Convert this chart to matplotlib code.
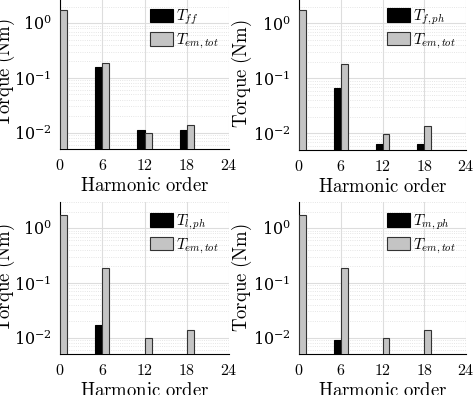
import numpy as np
import matplotlib
matplotlib.use("Agg")
import matplotlib.pyplot as plt
from matplotlib.ticker import LogLocator, NullFormatter

plt.rcParams["mathtext.fontset"] = "cm"
plt.rcParams["font.family"] = "serif"
plt.rcParams["font.serif"] = ["DejaVu Serif"]

harmonics = [0, 6, 12, 18, 24]
t_em_tot = [1.76, 0.184, 0.0098, 0.0136, 0.0]

t_ff = [0.0, 0.159, 0.011, 0.011, 0.0]
t_f_ph = [1.76, 0.067, 0.0063, 0.0063, 0.0]
t_l_ph = [0.0, 0.0173, 0.0, 0.0, 0.0]
t_m_ph = [0.0, 0.0092, 0.0, 0.0, 0.0]

panels = [
    (t_ff, r"$T_{ff}$"),
    (t_f_ph, r"$T_{f,ph}$"),
    (t_l_ph, r"$T_{l,ph}$"),
    (t_m_ph, r"$T_{m,ph}$"),
]

W, H = 474, 395
# pixel boxes: left, right, top, bottom
boxes = [
    (60, 229, -3, 149),
    (299, 466, -3, 150),
    (60, 229, 202, 354),
    (299, 466, 202, 354),
]
# x position (pixels) of the ylabel's right edge
ylabel_x = [17, 254, 17, 254]

fig = plt.figure(figsize=(W / 100, H / 100), dpi=100)
gray = "#c4c4c4"

for (vals, lab), (l, r, t, b), yx in zip(panels, boxes, ylabel_x):
    ax = fig.add_axes([l / W, 1 - b / H, (r - l) / W, (b - t) / H])
    x = np.array(harmonics, dtype=float)
    v1 = np.array(vals)
    v2 = np.array(t_em_tot)
    ax.bar(x - 0.5, np.where(v1 > 0, v1, np.nan), width=1.0, color="black",
           edgecolor="black", linewidth=0.8, label=lab, zorder=3)
    ax.bar(x + 0.5, np.where(v2 > 0, v2, np.nan), width=1.0, color=gray,
           edgecolor="#333333", linewidth=0.8, label=r"$T_{em,tot}$", zorder=3)
    ax.set_yscale("log")
    ax.set_ylim(0.005, 3)
    ax.set_xlim(0, 24)
    ax.set_xticks(harmonics)
    ax.set_xticklabels([r"$%d$" % h for h in harmonics])
    ax.yaxis.set_major_locator(LogLocator(base=10, numticks=10))
    ax.yaxis.set_minor_locator(LogLocator(base=10, subs=np.arange(2, 10), numticks=10))
    ax.yaxis.set_minor_formatter(NullFormatter())
    ax.grid(True, which="major", color="#dddddd", linewidth=0.8, zorder=0)
    ax.grid(True, which="minor", axis="y", color="#dddddd", linewidth=0.6,
            linestyle=":", zorder=0)
    for s in ["top", "right"]:
        ax.spines[s].set_visible(False)
    ax.spines["left"].set_linewidth(0.8)
    ax.spines["bottom"].set_linewidth(0.8)
    ax.tick_params(which="both", length=0, labelsize=11.5, pad=6)
    ax.set_xlabel(r"$\mathrm{Harmonic\ order}$", fontsize=13.5, labelpad=2)
    ax.set_ylabel(r"$\mathrm{Torque\ (Nm)}$", fontsize=13.5)
    ax.yaxis.set_label_coords((yx - l) / (r - l), 0.5)
    ax.legend(loc="upper right", frameon=False, fontsize=11, handlelength=1.5,
              handleheight=1.0, handletextpad=0.2, labelspacing=0.3,
              borderaxespad=0.3, borderpad=0.4)

fig.savefig("out.png", dpi=100)
